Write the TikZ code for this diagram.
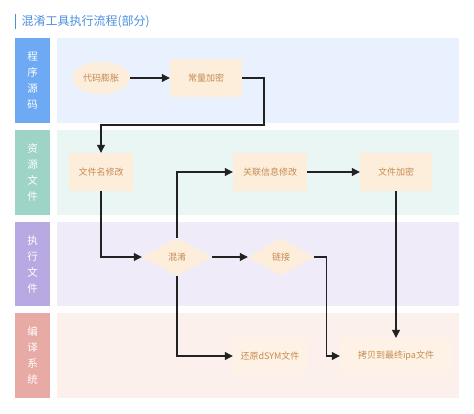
\documentclass[tikz,border=0pt]{standalone}
\usepackage{fontspec}
\setmainfont{Noto Sans CJK SC}
\usetikzlibrary{arrows.meta,shapes.geometric}
\definecolor{titleblue}{HTML}{4A8FE2}
\definecolor{laneA}{HTML}{6EA9F3}
\definecolor{laneB}{HTML}{9ED4C5}
\definecolor{laneC}{HTML}{B9A9E3}
\definecolor{laneD}{HTML}{E8AAA5}
\definecolor{bgA}{HTML}{E8F1FD}
\definecolor{bgB}{HTML}{EAF6F3}
\definecolor{bgC}{HTML}{EFEBF9}
\definecolor{bgD}{HTML}{FCF0ED}
\definecolor{stepfill}{HTML}{FDEEDC}
\definecolor{stepfaint}{HTML}{FEF2E6}
\definecolor{steptext}{HTML}{C68A4E}
\definecolor{linecol}{HTML}{222222}
\tikzset{
  lanelabel/.style={text=white,font=\fontsize{10.5}{16}\selectfont,align=center},
  stepbox/.style={rectangle,fill=stepfill,text=steptext,font=\fontsize{9}{11}\selectfont,
    minimum width=72pt,minimum height=38pt,inner sep=0pt},
  stepoval/.style={stepbox,ellipse,minimum width=58pt,minimum height=32pt},
  stepdiamond/.style={stepbox,diamond,minimum width=70pt,minimum height=38pt},
  flow/.style={draw=linecol,line width=1.1pt,-{Triangle[width=8pt,length=8pt]}},
  link/.style={draw=linecol,line width=1.1pt}
}
\begin{document}
\begin{tikzpicture}[x=1pt,y=-1pt]
      \useasboundingbox[fill=white] (0,0) rectangle (474,413);
      % title
      \draw[titleblue,line width=1pt] (15,14)--(15,29);
      \node[anchor=west,text=titleblue,font=\fontsize{12}{14}\selectfont] (title) at (18,21.5) {混淆工具执行流程(部分)};
      % lanes
      \fill[laneA] (15,38) rectangle (50,123);
      \fill[bgA] (57,38) rectangle (459,123);
      \fill[laneB] (15,130) rectangle (50,215);
      \fill[bgB] (57,130) rectangle (459,215);
      \fill[laneC] (15,222) rectangle (50,306);
      \fill[bgC] (57,222) rectangle (459,306);
      \fill[laneD] (15,313) rectangle (50,398);
      \fill[bgD] (57,313) rectangle (459,398);
      \node[lanelabel] (laneA) at (32.5,80.5) {程\\序\\源\\码};
      \node[lanelabel] (laneB) at (32.5,172.5) {资\\源\\文\\件};
      \node[lanelabel] (laneC) at (32.5,264) {执\\行\\文\\件};
      \node[lanelabel] (laneD) at (32.5,355.5) {编\\译\\系\\统};
      % steps
      \node[stepoval] (dmpz) at (101,78) {代码膨胀};
      \node[stepbox] (cljm) at (206,78) {常量加密};
      \node[stepbox,minimum width=64pt] (wjmxg) at (101,172) {文件名修改};
      \node[stepbox,minimum width=74pt] (glxx) at (270,172) {关联信息修改};
      \node[stepbox] (wjjm) at (396,172) {文件加密};
      \node[stepdiamond] (hx) at (177,257) {混淆};
      \node[stepdiamond,minimum width=66pt] (lj) at (281,257) {链接};
      \node[stepbox,fill=stepfaint,minimum width=74pt,minimum height=36pt] (hydsym) at (270,356) {还原dSYM文件};
      \node[stepbox,fill=stepfaint,minimum width=112pt,minimum height=36pt] (kbipa) at (396,356) {拷贝到最终ipa文件};
      % connectors
      \draw[flow] (dmpz) -- (cljm);
      \draw[flow] (cljm.east) -| (264,125) -| (wjmxg.north);
      \draw[flow] (wjmxg.south) |- (hx.west);
      \draw[flow] (hx.north) |- (glxx.west);
      \draw[flow] (glxx) -- (wjjm);
      \draw[flow] (hx) -- (lj);
      \draw[flow] (wjjm.south) -- (kbipa.north);
      \draw[flow] (lj.east) -- ++(12,0) |- (kbipa.west);
      \draw[flow] (hx.south) |- (hydsym.west);
     \end{tikzpicture}
\end{document}
